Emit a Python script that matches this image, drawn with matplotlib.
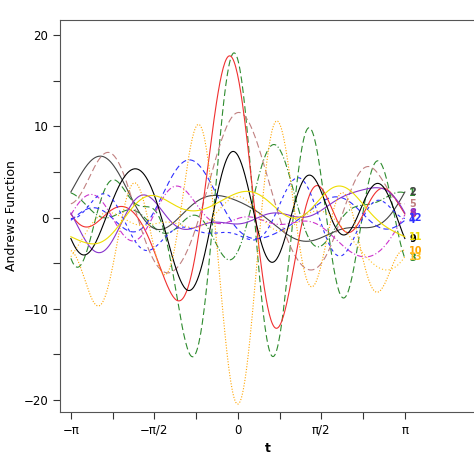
import numpy as np
import matplotlib
matplotlib.use("Agg")
import matplotlib.pyplot as plt

# observations: x1..x11 (Andrews: x1/sqrt2 + x2 sin t + x3 cos t + x4 sin 2t + ...)
obs_1 = [0.71, 1.0, -0.5, 1.5, 0.8, 2.0, -1.2, 0.5, -1.8, 0.0, -1.5]
obs_2 = [1.13, -2.0, -1.0, 1.0, 2.0, -1.5, 0.5, 0.5, -0.5, 0.0, 0.0]
obs_3 = [-0.9, 0.55, -0.33, 1.30, 1.91, -1.18, 4.70, -5.27, 5.13, 0.0, 6.50]
obs_4 = [0.99, -1.0, 0.5, -2.0, -1.0, -1.5, -1.0, 0.8, -0.5, 0.0, 0.0]
obs_5 = [2.55, -0.15, 0.14, 0.65, 5.70, -0.04, 4.16, 0.01, -1.00, 0.0, 0.70]
obs_6 = [0.2, 0.19, 0.82, -1.91, 4.10, -3.30, 4.84, -3.68, 3.70, 0.0, 1.89]
obs_7 = [-0.71, -1.5, 0.8, 0.5, 0.2, -0.8, -1.5, 1.2, 0.4, 0.0, 0.5]
obs_8 = [0.42, 1.0, -0.5, -1.0, -0.7, 1.5, 0.5, -0.8, 0.3, 0.0, -0.6]
obs_9 = [0.37, 0.60, -0.29, 0.88, -0.18, 0.42, 3.08, -3.37, 2.17, 0.0, 1.76]
obs_10 = [-3.96, -0.22, 1.14, -0.12, -3.87, 0.61, -2.75, -0.17, -5.36, 0.0, -6.80]
obs_11 = [1.13, 0.5, 1.5, -0.8, -1.0, 0.6, 1.2, 0.3, 0.5, 0.0, -0.3]
obs_12 = [-0.71, 0.8, -0.8, 1.2, 0.5, -0.5, -1.5, -1.0, -1.0, 0.0, 1.4]
obs_13 = [-1.41, -0.5, 1.8, 1.0, -0.5, -1.2, 1.0, 0.5, 0.5, 0.0, 0.5]

data = [obs_1, obs_2, obs_3, obs_4, obs_5, obs_6, obs_7, obs_8, obs_9,
        obs_10, obs_11, obs_12, obs_13]
labels = [str(i + 1) for i in range(len(data))]

colors = ["#2e8b2e", "#444444", "#2e8b2e", "#3030ff", "#c08080", "#f03030",
          "#cc33cc", "#8833cc", "#000000", "#ffa500", "#eedd00", "#3030ff", "#ffc020"]
styles = [(0, (6, 2, 1, 2)), "-", (0, (6, 3)), (0, (5, 3)), (0, (6, 3)), "-",
          (0, (5, 2, 1, 2)), "-", "-", (0, (1, 1.5)), "-", (0, (3, 3)), (0, (1, 2))]


def andrews(x, t):
    f = x[0] / np.sqrt(2) * np.ones_like(t)
    for i in range(1, len(x)):
        k = (i + 1) // 2
        if i % 2 == 1:
            f = f + x[i] * np.sin(k * t)
        else:
            f = f + x[i] * np.cos(k * t)
    return f


t = np.linspace(-np.pi, np.pi, 400)

fig = plt.figure(figsize=(4.74, 4.55), dpi=100)
ax = fig.add_axes([60 / 474, 43 / 455, 416 / 474, 392 / 455])

for x, c, ls, lab in zip(data, colors, styles, labels):
    y = andrews(x, t)
    ax.plot(t, y, color=c, linestyle=ls, linewidth=0.8)
    ax.text(3.22, y[-1], lab, color=c, fontsize=7, fontweight="bold",
            ha="left", va="center")

ax.set_xlim(-3.346, 4.48)
ax.set_ylim(-21.3, 21.64)
ax.set_xticks([-np.pi, -np.pi / 2, 0, np.pi / 2, np.pi])
ax.set_xticklabels(["\u2212\u03c0", "\u2212\u03c0/2", "0", "\u03c0/2", "\u03c0"])
ax.set_xticks([-3 * np.pi / 4, -np.pi / 4, np.pi / 4, 3 * np.pi / 4], minor=True)
ax.set_yticks([-20, -10, 0, 10, 20])
ax.set_yticklabels(["\u221220", "\u221210", "0", "10", "20"])
ax.set_yticks([-15, -5, 5, 15], minor=True)
ax.tick_params(which="both", direction="out", length=5, width=0.8,
               colors="#333333", labelsize=8.5, labelcolor="black")
for s in ax.spines.values():
    s.set_color("#555555")
    s.set_linewidth(0.8)
ax.set_xlabel("t", fontsize=9, fontweight="bold")
ax.set_ylabel("Andrews Function", fontsize=9)

fig.savefig("out.png", dpi=100)
